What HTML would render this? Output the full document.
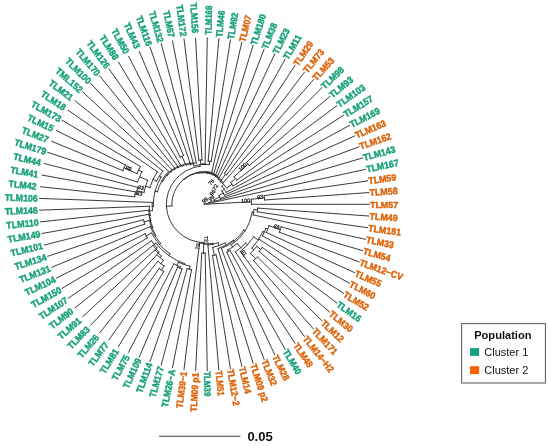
<!DOCTYPE html>
<html lang="en">
<head>
<meta charset="utf-8">
<title>Phylogenetic tree</title>
<style>
html,body{margin:0;padding:0;background:#fff;}
body{width:550px;height:446px;overflow:hidden;position:relative;font-family:"Liberation Sans",sans-serif;}
svg{position:absolute;left:0;top:0;display:block;}
</style>
</head>
<body>
<svg width="550" height="446" viewBox="0 0 550 446">
<rect x="0" y="0" width="550" height="446" fill="#ffffff"/>
<g transform="translate(0 204.3) scale(1 1.009) translate(0 -204.3)">
<path d="M251.55 204.30L369.25 204.30M264.60 200.04L368.84 192.67M264.15 195.80L367.61 181.09M251.29 199.31L264.41 197.92M204.35 204.30L251.48 201.80M209.24 203.25L365.57 169.64M214.91 201.23L362.72 158.35M220.30 198.42L359.08 147.29M224.41 195.26L354.68 136.52M226.36 192.44L349.52 126.09M233.07 186.10L343.64 116.04M236.79 180.38L337.07 106.43M249.25 166.02L329.84 97.32M246.44 162.95L321.98 88.73M234.08 177.09L247.87 164.46M230.61 182.70L235.47 178.70M226.71 188.12L231.89 184.36M223.29 182.87L313.53 80.72M226.53 175.31L304.54 73.33M224.43 173.82L295.05 66.59M221.49 180.17L225.49 174.55M219.24 177.80L285.11 60.53M217.59 176.27L274.77 55.19M215.80 174.85L264.08 50.60M213.84 173.63L253.09 46.77M211.74 172.65L241.85 43.72M211.15 161.84L230.43 41.48M208.14 161.47L218.88 40.04M209.23 165.00L209.65 161.63M205.06 164.31L207.26 39.43M202.02 160.36L195.62 39.63M198.93 160.64L184.03 40.66M200.82 164.46L200.47 160.47M202.95 164.72L202.94 164.32M206.09 164.84L206.10 164.74M196.29 163.29L172.54 42.50M193.15 162.99L161.20 45.15M189.94 162.94L150.08 48.59M183.58 155.97L139.23 52.80M180.22 157.56L128.71 57.77M185.22 163.79L181.89 156.74M180.63 165.36L118.56 63.47M177.59 166.64L108.84 69.87M174.62 168.16L99.60 76.95M171.66 169.84L90.88 84.65M168.58 171.55L82.72 92.95M162.83 171.36L75.17 101.81M157.31 172.11L68.26 111.18M140.48 166.92L62.03 121.01M125.45 165.32L56.51 131.26M122.90 170.98L51.73 141.87M136.89 173.88L124.13 168.13M141.88 172.05L138.59 170.36M137.57 182.34L47.70 152.79M147.64 180.51L139.52 177.11M137.64 187.47L44.46 163.97M135.44 192.01L42.01 175.35M134.74 196.90L40.37 186.87M136.23 194.62L135.05 194.45M144.01 192.44L136.84 191.03M149.82 187.69L145.52 186.38M156.58 181.35L152.97 179.62M161.12 177.24L159.42 176.18M152.18 202.46L39.55 198.48M149.18 206.25L39.55 210.12M148.66 210.22L40.37 221.73M148.73 214.22L42.01 233.25M143.55 219.64L44.46 244.63M144.79 223.89L47.70 255.81M149.13 220.32L144.13 221.77M150.20 226.45L51.73 266.73M145.18 233.53L56.51 277.34M147.39 237.64L62.03 287.59M151.53 232.76L146.25 235.60M151.53 240.44L68.26 297.42M152.96 245.07L75.17 306.79M154.93 249.54L82.72 315.65M156.87 254.36L90.88 323.95M157.85 260.83L99.60 331.65M159.17 267.89L108.84 338.73M163.77 270.91L118.56 345.13M164.09 265.43L161.45 269.44M163.40 259.83L160.91 263.21M161.33 255.67L160.05 257.20M159.00 251.70L158.03 252.71M157.05 247.41L155.87 248.49M155.74 242.78L154.17 244.02M173.89 263.30L128.71 350.83M177.62 266.50L139.23 355.80M182.07 268.23L150.08 360.01M180.30 266.19L179.83 267.40M178.46 261.73L177.06 264.83M187.08 268.00L161.20 363.45M191.62 269.06L172.54 366.10M190.02 265.65L189.34 268.57M184.46 263.02L184.14 263.97M169.79 253.35L168.64 254.98M160.58 243.12L159.46 244.11M155.54 234.69L154.69 235.22M152.75 227.32L151.84 227.73M150.82 220.75L150.34 220.89M150.27 215.37L149.49 215.53M152.52 210.48L149.54 210.83M153.39 206.42L152.20 206.47M157.47 191.89L155.05 191.25M162.67 181.53L161.79 181.05M167.26 175.76L166.71 175.33M171.16 172.16L170.73 171.75M174.64 169.71L174.25 169.25M178.01 168.06L177.54 167.41M182.03 166.62L181.52 165.76M186.31 165.49L185.89 164.58M190.02 165.03L189.68 164.09M193.74 166.25L193.12 164.04M200.03 166.55L199.86 165.06M199.57 242.80L184.03 367.94M201.79 252.63L195.62 368.97M205.20 252.69L207.26 369.17M203.65 243.89L203.50 252.69M207.93 244.74L218.88 368.56M212.48 255.05L230.43 367.12M216.04 254.35L241.85 364.88M212.74 246.98L214.27 254.73M217.95 248.24L253.09 361.83M221.37 248.11L264.08 358.00M226.77 251.77L274.77 353.41M230.06 250.07L285.11 348.07M227.74 249.62L228.43 250.95M235.43 251.48L295.05 342.01M240.20 251.16L304.54 335.27M253.68 260.13L313.53 327.88M257.49 256.51L321.98 319.87M250.46 252.91L255.62 258.36M259.14 251.01L329.84 311.28M262.30 247.03L337.07 302.17M256.84 245.94L260.75 249.05M251.93 247.85L253.77 249.54M258.83 238.82L343.64 292.56M262.45 235.60L349.52 282.51M266.34 232.25L354.68 272.08M279.42 231.96L359.08 261.31M281.18 226.59L362.72 250.25M268.95 225.54L280.35 229.29M265.87 228.21L267.73 228.93M262.91 231.33L264.28 231.96M253.72 236.61L258.32 239.62M245.74 242.76L247.57 244.46M237.29 243.23L240.85 247.43M231.31 244.62L232.70 246.69M253.23 214.81L365.57 238.96M257.32 211.83L367.61 227.51M257.72 208.07L368.84 215.93M254.07 209.58L257.55 209.95M252.24 211.97L253.72 212.21M243.92 229.67L245.18 230.48M233.48 239.90L234.11 240.68M224.93 242.62L226.11 244.83M218.02 242.53L219.00 245.26M212.83 242.98L213.05 243.96M208.19 242.91L208.27 243.71M203.89 242.30L203.88 243.10M171.89 205.95L166.40 206.23M183.77 179.67L183.51 179.36M198.13 173.32L198.03 172.83M207.02 173.42L207.07 172.82M212.28 174.95L212.43 174.37M215.54 176.90L215.85 176.16M218.13 179.24L218.61 178.36M220.23 181.73L220.81 180.91M221.91 186.50L223.74 184.65M221.95 191.11L224.36 189.31M218.99 195.66L223.29 193.11M214.29 199.58L219.71 197.01M209.02 202.53L214.63 200.40M204.35 204.30L209.15 202.88M264.60 200.04A60.40 60.40 0 0 0 264.15 195.80M251.55 204.30A47.20 47.20 0 0 0 251.29 199.31M249.25 166.02A59.00 59.00 0 0 0 246.44 162.95M236.79 180.38A40.30 40.30 0 0 0 234.08 177.09M233.07 186.10A34.00 34.00 0 0 0 230.61 182.70M226.53 175.31A36.50 36.50 0 0 0 224.43 173.82M211.15 161.84A43.00 43.00 0 0 0 208.14 161.47M202.02 160.36A44.00 44.00 0 0 0 198.93 160.64M205.06 164.31A40.00 40.00 0 0 0 200.82 164.46M209.23 165.00A39.60 39.60 0 0 0 202.95 164.72M183.58 155.97A52.60 52.60 0 0 0 180.22 157.56M125.45 165.32A88.00 88.00 0 0 0 122.90 170.98M140.48 166.92A74.00 74.00 0 0 0 136.89 173.88M141.88 172.05A70.30 70.30 0 0 0 137.57 182.34M135.44 192.01A70.00 70.00 0 0 0 134.74 196.90M137.64 187.47A68.80 68.80 0 0 0 136.23 194.62M147.64 180.51A61.50 61.50 0 0 0 144.01 192.44M157.31 172.11A57.00 57.00 0 0 0 149.82 187.69M162.83 171.36A53.00 53.00 0 0 0 156.58 181.35M143.55 219.64A62.70 62.70 0 0 0 144.79 223.89M145.18 233.53A66.00 66.00 0 0 0 147.39 237.64M159.17 267.89A78.00 78.00 0 0 0 163.77 270.91M157.85 260.83A73.20 73.20 0 0 0 164.09 265.43M156.87 254.36A69.00 69.00 0 0 0 163.40 259.83M154.93 249.54A67.00 67.00 0 0 0 161.33 255.67M152.96 245.07A65.60 65.60 0 0 0 159.00 251.70M151.53 240.44A64.00 64.00 0 0 0 157.05 247.41M177.62 266.50A67.70 67.70 0 0 0 182.07 268.23M173.89 263.30A66.40 66.40 0 0 0 180.30 266.19M187.08 268.00A66.00 66.00 0 0 0 191.62 269.06M178.46 261.73A63.00 63.00 0 0 0 190.02 265.65M155.74 242.78A62.00 62.00 0 0 0 184.46 263.02M151.53 232.76A60.00 60.00 0 0 0 169.79 253.35M150.20 226.45A58.50 58.50 0 0 0 160.58 243.12M149.13 220.32A57.50 57.50 0 0 0 155.54 234.69M148.73 214.22A56.50 56.50 0 0 0 152.75 227.32M148.66 210.22A56.00 56.00 0 0 0 150.82 220.75M149.18 206.25A55.20 55.20 0 0 0 150.27 215.37M152.18 202.46A52.20 52.20 0 0 0 152.52 210.48M161.12 177.24A51.00 51.00 0 0 0 153.39 206.42M168.58 171.55A48.50 48.50 0 0 0 157.47 191.89M171.66 169.84A47.50 47.50 0 0 0 162.67 181.53M174.62 168.16A46.80 46.80 0 0 0 167.26 175.76M177.59 166.64A46.20 46.20 0 0 0 171.16 172.16M180.63 165.36A45.60 45.60 0 0 0 174.64 169.71M185.22 163.79A44.80 44.80 0 0 0 178.01 168.06M189.94 162.94A43.80 43.80 0 0 0 182.03 166.62M193.15 162.99A42.80 42.80 0 0 0 186.31 165.49M196.29 163.29A41.80 41.80 0 0 0 190.02 165.03M206.09 164.84A39.50 39.50 0 0 0 193.74 166.25M201.79 252.63A48.40 48.40 0 0 0 205.20 252.69M212.48 255.05A51.40 51.40 0 0 0 216.04 254.35M226.77 251.77A52.50 52.50 0 0 0 230.06 250.07M253.68 260.13A74.50 74.50 0 0 0 257.49 256.51M259.14 251.01A72.00 72.00 0 0 0 262.30 247.03M250.46 252.91A67.00 67.00 0 0 0 256.84 245.94M279.42 231.96A80.00 80.00 0 0 0 281.18 226.59M266.34 232.25A68.00 68.00 0 0 0 268.95 225.54M262.45 235.60A66.00 66.00 0 0 0 265.87 228.21M251.93 247.85A64.50 64.50 0 0 0 262.91 231.33M240.20 251.16A59.00 59.00 0 0 0 253.72 236.61M235.43 251.48A56.50 56.50 0 0 0 245.74 242.76M227.74 249.62A51.00 51.00 0 0 0 237.29 243.23M257.32 211.83A53.50 53.50 0 0 0 257.72 208.07M253.23 214.81A50.00 50.00 0 0 0 254.07 209.58M231.31 244.62A48.50 48.50 0 0 0 252.24 211.97M221.37 248.11A47.00 47.00 0 0 0 243.92 229.67M217.95 248.24A46.00 46.00 0 0 0 233.48 239.90M212.74 246.98A43.50 43.50 0 0 0 224.93 242.62M207.93 244.74A40.60 40.60 0 0 0 218.02 242.53M203.65 243.89A39.60 39.60 0 0 0 212.83 242.98M199.57 242.80A38.80 38.80 0 0 0 208.19 242.91M200.03 166.55A38.00 38.00 0 0 0 203.89 242.30M211.74 172.65A32.50 32.50 0 0 0 171.89 205.95M213.84 173.63A32.10 32.10 0 0 0 183.77 179.67M215.80 174.85A31.60 31.60 0 0 0 198.13 173.32M217.59 176.27A31.00 31.00 0 0 0 207.02 173.42M219.24 177.80A30.40 30.40 0 0 0 212.28 174.95M221.49 180.17A29.60 29.60 0 0 0 215.54 176.90M223.29 182.87A28.60 28.60 0 0 0 218.13 179.24M226.71 188.12A27.60 27.60 0 0 0 220.23 181.73M226.36 192.44A25.00 25.00 0 0 0 221.91 186.50M224.41 195.26A22.00 22.00 0 0 0 221.95 191.11M220.30 198.42A17.00 17.00 0 0 0 218.99 195.66M214.91 201.23A11.00 11.00 0 0 0 214.29 199.58M209.24 203.25A5.00 5.00 0 0 0 209.02 202.53" fill="none" stroke="#262626" stroke-width="0.9" stroke-linecap="square"/>
<g font-family="'Liberation Sans', sans-serif" font-weight="bold" font-size="8.9" stroke-width="0.4" stroke-linejoin="round">
<text fill="#de6207" stroke="#de6207" text-anchor="start" transform="translate(369.95 204.30) rotate(-0.00) scale(1.000 1.05)" y="3.19">TLM57</text>
<text fill="#de6207" stroke="#de6207" text-anchor="start" transform="translate(369.54 192.62) rotate(-3.84) scale(1.000 1.05)" y="3.19">TLM58</text>
<text fill="#de6207" stroke="#de6207" text-anchor="start" transform="translate(368.30 181.00) rotate(-7.69) scale(0.999 1.05)" y="3.19">TLM59</text>
<text fill="#16a07a" stroke="#16a07a" text-anchor="start" transform="translate(366.25 169.49) rotate(-11.54) scale(0.998 1.05)" y="3.19">TLM167</text>
<text fill="#16a07a" stroke="#16a07a" text-anchor="start" transform="translate(363.39 158.16) rotate(-15.41) scale(0.996 1.05)" y="3.19">TLM143</text>
<text fill="#de6207" stroke="#de6207" text-anchor="start" transform="translate(359.74 147.05) rotate(-19.29) scale(0.994 1.05)" y="3.19">TLM162</text>
<text fill="#de6207" stroke="#de6207" text-anchor="start" transform="translate(355.31 136.23) rotate(-23.19) scale(0.992 1.05)" y="3.19">TLM163</text>
<text fill="#16a07a" stroke="#16a07a" text-anchor="start" transform="translate(350.14 125.75) rotate(-27.10) scale(0.989 1.05)" y="3.19">TLM169</text>
<text fill="#16a07a" stroke="#16a07a" text-anchor="start" transform="translate(344.23 115.67) rotate(-31.05) scale(0.986 1.05)" y="3.19">TLM157</text>
<text fill="#16a07a" stroke="#16a07a" text-anchor="start" transform="translate(337.63 106.02) rotate(-35.01) scale(0.983 1.05)" y="3.19">TLM103</text>
<text fill="#16a07a" stroke="#16a07a" text-anchor="start" transform="translate(330.37 96.86) rotate(-39.00) scale(0.979 1.05)" y="3.19">TLM93</text>
<text fill="#16a07a" stroke="#16a07a" text-anchor="start" transform="translate(322.48 88.24) rotate(-43.03) scale(0.976 1.05)" y="3.19">TLM98</text>
<text fill="#de6207" stroke="#de6207" text-anchor="start" transform="translate(313.99 80.20) rotate(-47.08) scale(0.972 1.05)" y="3.19">TLM53</text>
<text fill="#de6207" stroke="#de6207" text-anchor="start" transform="translate(304.97 72.77) rotate(-51.16) scale(0.969 1.05)" y="3.19">TLM73</text>
<text fill="#de6207" stroke="#de6207" text-anchor="start" transform="translate(295.44 66.00) rotate(-55.27) scale(0.965 1.05)" y="3.19">TLM29</text>
<text fill="#16a07a" stroke="#16a07a" text-anchor="start" transform="translate(285.46 59.92) rotate(-59.40) scale(0.962 1.05)" y="3.19">TLM11</text>
<text fill="#16a07a" stroke="#16a07a" text-anchor="start" transform="translate(275.07 54.56) rotate(-63.57) scale(0.959 1.05)" y="3.19">TLM23</text>
<text fill="#16a07a" stroke="#16a07a" text-anchor="start" transform="translate(264.33 49.94) rotate(-67.75) scale(0.957 1.05)" y="3.19">TLM38</text>
<text fill="#16a07a" stroke="#16a07a" text-anchor="start" transform="translate(253.29 46.10) rotate(-71.96) scale(0.954 1.05)" y="3.19">TLM180</text>
<text fill="#de6207" stroke="#de6207" text-anchor="start" transform="translate(242.01 43.04) rotate(-76.19) scale(0.953 1.05)" y="3.19">TLM07</text>
<text fill="#16a07a" stroke="#16a07a" text-anchor="start" transform="translate(230.54 40.78) rotate(-80.43) scale(0.951 1.05)" y="3.19">TLM92</text>
<text fill="#16a07a" stroke="#16a07a" text-anchor="start" transform="translate(219.00 38.75) rotate(-84.68) scale(0.950 1.05)" y="3.19">TLM46</text>
<text fill="#16a07a" stroke="#16a07a" text-anchor="start" transform="translate(208.22 36.23) rotate(-88.94) scale(0.869 1.05)" y="3.19">TLM168</text>
<text fill="#16a07a" stroke="#16a07a" text-anchor="end" transform="translate(195.36 34.64) rotate(-273.19) scale(0.912 1.05)" y="3.19">TLM156</text>
<text fill="#16a07a" stroke="#16a07a" text-anchor="end" transform="translate(183.67 37.78) rotate(-277.45) scale(0.951 1.05)" y="3.19">TLM172</text>
<text fill="#16a07a" stroke="#16a07a" text-anchor="end" transform="translate(171.80 38.77) rotate(-281.69) scale(0.952 1.05)" y="3.19">TLM67</text>
<text fill="#16a07a" stroke="#16a07a" text-anchor="end" transform="translate(160.76 43.50) rotate(-285.93) scale(0.954 1.05)" y="3.19">TLM132</text>
<text fill="#16a07a" stroke="#16a07a" text-anchor="end" transform="translate(149.52 46.98) rotate(-290.15) scale(0.956 1.05)" y="3.19">TLM116</text>
<text fill="#16a07a" stroke="#16a07a" text-anchor="end" transform="translate(137.73 49.31) rotate(-294.34) scale(0.958 1.05)" y="3.19">TLM43</text>
<text fill="#16a07a" stroke="#16a07a" text-anchor="end" transform="translate(126.97 54.39) rotate(-298.52) scale(0.961 1.05)" y="3.19">TLM50</text>
<text fill="#16a07a" stroke="#16a07a" text-anchor="end" transform="translate(116.59 60.23) rotate(-302.67) scale(0.964 1.05)" y="3.19">TLM88</text>
<text fill="#16a07a" stroke="#16a07a" text-anchor="end" transform="translate(107.86 68.49) rotate(-306.79) scale(0.967 1.05)" y="3.19">TLM126</text>
<text fill="#16a07a" stroke="#16a07a" text-anchor="end" transform="translate(98.52 75.63) rotate(-310.89) scale(0.970 1.05)" y="3.19">TLM170</text>
<text fill="#16a07a" stroke="#16a07a" text-anchor="end" transform="translate(89.71 83.42) rotate(-314.95) scale(0.974 1.05)" y="3.19">TLM100</text>
<text fill="#16a07a" stroke="#16a07a" text-anchor="end" transform="translate(81.46 91.81) rotate(-318.99) scale(0.978 1.05)" y="3.19">TML152</text>
<text fill="#16a07a" stroke="#16a07a" text-anchor="end" transform="translate(72.19 99.45) rotate(-323.00) scale(0.981 1.05)" y="3.19">TLM21</text>
<text fill="#16a07a" stroke="#16a07a" text-anchor="end" transform="translate(65.12 109.03) rotate(-326.97) scale(0.984 1.05)" y="3.19">TLM18</text>
<text fill="#16a07a" stroke="#16a07a" text-anchor="end" transform="translate(60.56 120.15) rotate(-330.93) scale(0.987 1.05)" y="3.19">TLM173</text>
<text fill="#16a07a" stroke="#16a07a" text-anchor="end" transform="translate(53.10 129.57) rotate(-334.86) scale(0.990 1.05)" y="3.19">TLM15</text>
<text fill="#16a07a" stroke="#16a07a" text-anchor="end" transform="translate(48.21 140.43) rotate(-338.76) scale(0.993 1.05)" y="3.19">TLM27</text>
<text fill="#16a07a" stroke="#16a07a" text-anchor="end" transform="translate(46.09 152.26) rotate(-342.65) scale(0.995 1.05)" y="3.19">TLM179</text>
<text fill="#16a07a" stroke="#16a07a" text-anchor="end" transform="translate(40.77 163.04) rotate(-346.52) scale(0.997 1.05)" y="3.19">TLM44</text>
<text fill="#16a07a" stroke="#16a07a" text-anchor="end" transform="translate(38.27 174.68) rotate(-350.38) scale(0.998 1.05)" y="3.19">TLM41</text>
<text fill="#16a07a" stroke="#16a07a" text-anchor="end" transform="translate(36.60 186.47) rotate(-354.23) scale(0.999 1.05)" y="3.19">TLM42</text>
<text fill="#16a07a" stroke="#16a07a" text-anchor="end" transform="translate(37.85 198.42) rotate(-358.08) scale(1.000 1.05)" y="3.19">TLM106</text>
<text fill="#16a07a" stroke="#16a07a" text-anchor="end" transform="translate(37.85 210.18) rotate(-1.92) scale(1.000 1.05)" y="3.19">TLM146</text>
<text fill="#16a07a" stroke="#16a07a" text-anchor="end" transform="translate(38.68 221.91) rotate(-5.77) scale(0.999 1.05)" y="3.19">TLM110</text>
<text fill="#16a07a" stroke="#16a07a" text-anchor="end" transform="translate(40.34 233.55) rotate(-9.62) scale(0.998 1.05)" y="3.19">TLM149</text>
<text fill="#16a07a" stroke="#16a07a" text-anchor="end" transform="translate(42.81 245.05) rotate(-13.48) scale(0.997 1.05)" y="3.19">TLM101</text>
<text fill="#16a07a" stroke="#16a07a" text-anchor="end" transform="translate(46.09 256.34) rotate(-17.35) scale(0.995 1.05)" y="3.19">TLM134</text>
<text fill="#16a07a" stroke="#16a07a" text-anchor="end" transform="translate(50.15 267.38) rotate(-21.24) scale(0.993 1.05)" y="3.19">TLM131</text>
<text fill="#16a07a" stroke="#16a07a" text-anchor="end" transform="translate(54.99 278.10) rotate(-25.14) scale(0.990 1.05)" y="3.19">TLM104</text>
<text fill="#16a07a" stroke="#16a07a" text-anchor="end" transform="translate(60.56 288.45) rotate(-29.07) scale(0.987 1.05)" y="3.19">TLM150</text>
<text fill="#16a07a" stroke="#16a07a" text-anchor="end" transform="translate(66.86 298.38) rotate(-33.03) scale(0.984 1.05)" y="3.19">TLM107</text>
<text fill="#16a07a" stroke="#16a07a" text-anchor="end" transform="translate(72.19 309.15) rotate(-37.00) scale(0.981 1.05)" y="3.19">TLM90</text>
<text fill="#16a07a" stroke="#16a07a" text-anchor="end" transform="translate(79.92 318.21) rotate(-41.01) scale(0.978 1.05)" y="3.19">TLM91</text>
<text fill="#16a07a" stroke="#16a07a" text-anchor="end" transform="translate(88.26 326.70) rotate(-45.05) scale(0.974 1.05)" y="3.19">TLM83</text>
<text fill="#16a07a" stroke="#16a07a" text-anchor="end" transform="translate(97.18 334.59) rotate(-49.11) scale(0.970 1.05)" y="3.19">TLM26</text>
<text fill="#16a07a" stroke="#16a07a" text-anchor="end" transform="translate(106.64 341.82) rotate(-53.21) scale(0.967 1.05)" y="3.19">TLM77</text>
<text fill="#16a07a" stroke="#16a07a" text-anchor="end" transform="translate(116.59 348.37) rotate(-57.33) scale(0.964 1.05)" y="3.19">TLM81</text>
<text fill="#16a07a" stroke="#16a07a" text-anchor="end" transform="translate(126.97 354.21) rotate(-61.48) scale(0.961 1.05)" y="3.19">TLM75</text>
<text fill="#16a07a" stroke="#16a07a" text-anchor="end" transform="translate(138.56 357.36) rotate(-65.66) scale(0.958 1.05)" y="3.19">TLM109</text>
<text fill="#16a07a" stroke="#16a07a" text-anchor="end" transform="translate(149.52 361.62) rotate(-69.85) scale(0.956 1.05)" y="3.19">TLM114</text>
<text fill="#16a07a" stroke="#16a07a" text-anchor="end" transform="translate(160.76 365.10) rotate(-74.07) scale(0.954 1.05)" y="3.19">TLM177</text>
<text fill="#16a07a" stroke="#16a07a" text-anchor="end" transform="translate(172.13 368.16) rotate(-78.31) scale(0.952 1.05)" y="3.19">TLM26−A</text>
<text fill="#de6207" stroke="#de6207" text-anchor="end" transform="translate(183.77 370.03) rotate(-82.55) scale(0.951 1.05)" y="3.19">TLM39−1</text>
<text fill="#de6207" stroke="#de6207" text-anchor="end" transform="translate(195.51 371.07) rotate(-86.81) scale(0.950 1.05)" y="3.19">TLM09 p1</text>
<text fill="#16a07a" stroke="#16a07a" text-anchor="start" transform="translate(207.27 369.87) rotate(88.94) scale(0.879 1.05)" y="3.19">TLM39</text>
<text fill="#de6207" stroke="#de6207" text-anchor="start" transform="translate(218.94 369.26) rotate(84.68) scale(0.884 1.05)" y="3.19">TLM51</text>
<text fill="#de6207" stroke="#de6207" text-anchor="start" transform="translate(230.54 367.82) rotate(80.43) scale(0.951 1.05)" y="3.19">TLM12−2</text>
<text fill="#de6207" stroke="#de6207" text-anchor="start" transform="translate(242.01 365.56) rotate(76.19) scale(0.953 1.05)" y="3.19">TLM14</text>
<text fill="#de6207" stroke="#de6207" text-anchor="start" transform="translate(253.29 362.50) rotate(71.96) scale(0.954 1.05)" y="3.19">TLM09 p2</text>
<text fill="#de6207" stroke="#de6207" text-anchor="start" transform="translate(264.33 358.66) rotate(67.75) scale(0.957 1.05)" y="3.19">TLM32</text>
<text fill="#de6207" stroke="#de6207" text-anchor="start" transform="translate(275.07 354.04) rotate(63.57) scale(0.959 1.05)" y="3.19">TLM28</text>
<text fill="#16a07a" stroke="#16a07a" text-anchor="start" transform="translate(285.46 348.68) rotate(59.40) scale(0.962 1.05)" y="3.19">TLM40</text>
<text fill="#de6207" stroke="#de6207" text-anchor="start" transform="translate(295.44 342.60) rotate(55.27) scale(0.965 1.05)" y="3.19">TLM48</text>
<text fill="#de6207" stroke="#de6207" text-anchor="start" transform="translate(304.97 335.83) rotate(51.16) scale(0.969 1.05)" y="3.19">TLM14−H2</text>
<text fill="#de6207" stroke="#de6207" text-anchor="start" transform="translate(313.99 328.40) rotate(47.08) scale(0.972 1.05)" y="3.19">TLM171</text>
<text fill="#de6207" stroke="#de6207" text-anchor="start" transform="translate(322.48 320.36) rotate(43.03) scale(0.976 1.05)" y="3.19">TLM12</text>
<text fill="#de6207" stroke="#de6207" text-anchor="start" transform="translate(330.37 311.74) rotate(39.00) scale(0.979 1.05)" y="3.19">TLM30</text>
<text fill="#16a07a" stroke="#16a07a" text-anchor="start" transform="translate(337.63 302.58) rotate(35.01) scale(0.983 1.05)" y="3.19">TLM16</text>
<text fill="#de6207" stroke="#de6207" text-anchor="start" transform="translate(344.23 292.93) rotate(31.05) scale(0.986 1.05)" y="3.19">TLM52</text>
<text fill="#de6207" stroke="#de6207" text-anchor="start" transform="translate(350.14 282.85) rotate(27.10) scale(0.989 1.05)" y="3.19">TLM60</text>
<text fill="#de6207" stroke="#de6207" text-anchor="start" transform="translate(355.31 272.37) rotate(23.19) scale(0.992 1.05)" y="3.19">TLM55</text>
<text fill="#de6207" stroke="#de6207" text-anchor="start" transform="translate(359.74 261.55) rotate(19.29) scale(0.994 1.05)" y="3.19">TLM12−CV</text>
<text fill="#de6207" stroke="#de6207" text-anchor="start" transform="translate(363.39 250.44) rotate(15.41) scale(0.996 1.05)" y="3.19">TLM54</text>
<text fill="#de6207" stroke="#de6207" text-anchor="start" transform="translate(366.25 239.11) rotate(11.54) scale(0.998 1.05)" y="3.19">TLM33</text>
<text fill="#de6207" stroke="#de6207" text-anchor="start" transform="translate(368.30 227.60) rotate(7.69) scale(0.999 1.05)" y="3.19">TLM181</text>
<text fill="#de6207" stroke="#de6207" text-anchor="start" transform="translate(369.54 215.98) rotate(3.84) scale(1.000 1.05)" y="3.19">TLM49</text>
</g>
<g font-family="'Liberation Sans', sans-serif" font-size="5.5" fill="#000" stroke="#000" stroke-width="0.18">
<text x="263.22" y="198.04" dy="0.55" text-anchor="end" transform="rotate(-6.07 263.22 198.04)">93</text>
<text x="250.29" y="201.87" dy="0.55" text-anchor="end" transform="rotate(-3.03 250.29 201.87)">100</text>
<text x="246.98" y="165.27" dy="0.55" text-anchor="end" transform="rotate(-42.47 246.98 165.27)">100</text>
<text x="125.22" y="168.62" dy="0.55" text-anchor="start" transform="rotate(-335.73 125.22 168.62)">99</text>
<text x="136.23" y="194.62" dy="0.55" text-anchor="start" transform="rotate(-351.91 136.23 194.62)">83</text>
<text x="141.00" y="187.75" dy="1.97" text-anchor="middle" transform="rotate(15.00 141.00 187.75)">83</text>
<text x="279.21" y="228.91" dy="0.55" text-anchor="end" transform="rotate(-341.80 279.21 228.91)">85</text>
<text x="244.00" y="252.66" dy="1.97" text-anchor="middle" transform="rotate(51.00 244.00 252.66)">81</text>
<text x="206.20" y="238.59" dy="1.97" text-anchor="middle" transform="rotate(86.00 206.20 238.59)">72</text>
<text x="197.70" y="246.22" dy="1.97" text-anchor="middle" transform="rotate(-83.00 197.70 246.22)">70</text>
<text x="211.30" y="182.30" dy="1.97" text-anchor="middle" transform="rotate(-50.00 211.30 182.30)">76</text>
<text x="215.30" y="187.45" dy="1.97" text-anchor="middle" transform="rotate(-60.00 215.30 187.45)">72</text>
<text x="212.50" y="192.70" dy="1.97" text-anchor="middle" transform="rotate(-58.00 212.50 192.70)">96</text>
<text x="211.30" y="198.06" dy="1.97" text-anchor="middle" transform="rotate(-45.00 211.30 198.06)">99</text>
<text x="204.85" y="200.24" dy="1.97" text-anchor="middle" transform="rotate(-42.00 204.85 200.24)">99</text>
</g>
</g>
<line x1="158.9" y1="436.3" x2="240.4" y2="436.3" stroke="#444" stroke-width="1.1"/>
<text x="247.4" y="440.7" font-family="'Liberation Sans', sans-serif" font-weight="bold" font-size="13" fill="#111">0.05</text>
<rect x="461.6" y="323.6" width="83.8" height="59.4" fill="#fff" stroke="#555" stroke-width="1"/>
<text x="474.2" y="338.9" font-family="'Liberation Sans', sans-serif" font-weight="bold" font-size="11.1" fill="#111">Population</text>
<rect x="470.0" y="348.1" width="9.1" height="7.8" fill="#14a37f"/>
<text x="484.3" y="356.1" font-family="'Liberation Sans', sans-serif" font-size="11" fill="#111">Cluster 1</text>
<rect x="470.0" y="366.2" width="9.1" height="7.9" fill="#f86200"/>
<text x="484.3" y="374" font-family="'Liberation Sans', sans-serif" font-size="11" fill="#111">Cluster 2</text>
</svg>
</body>
</html>
